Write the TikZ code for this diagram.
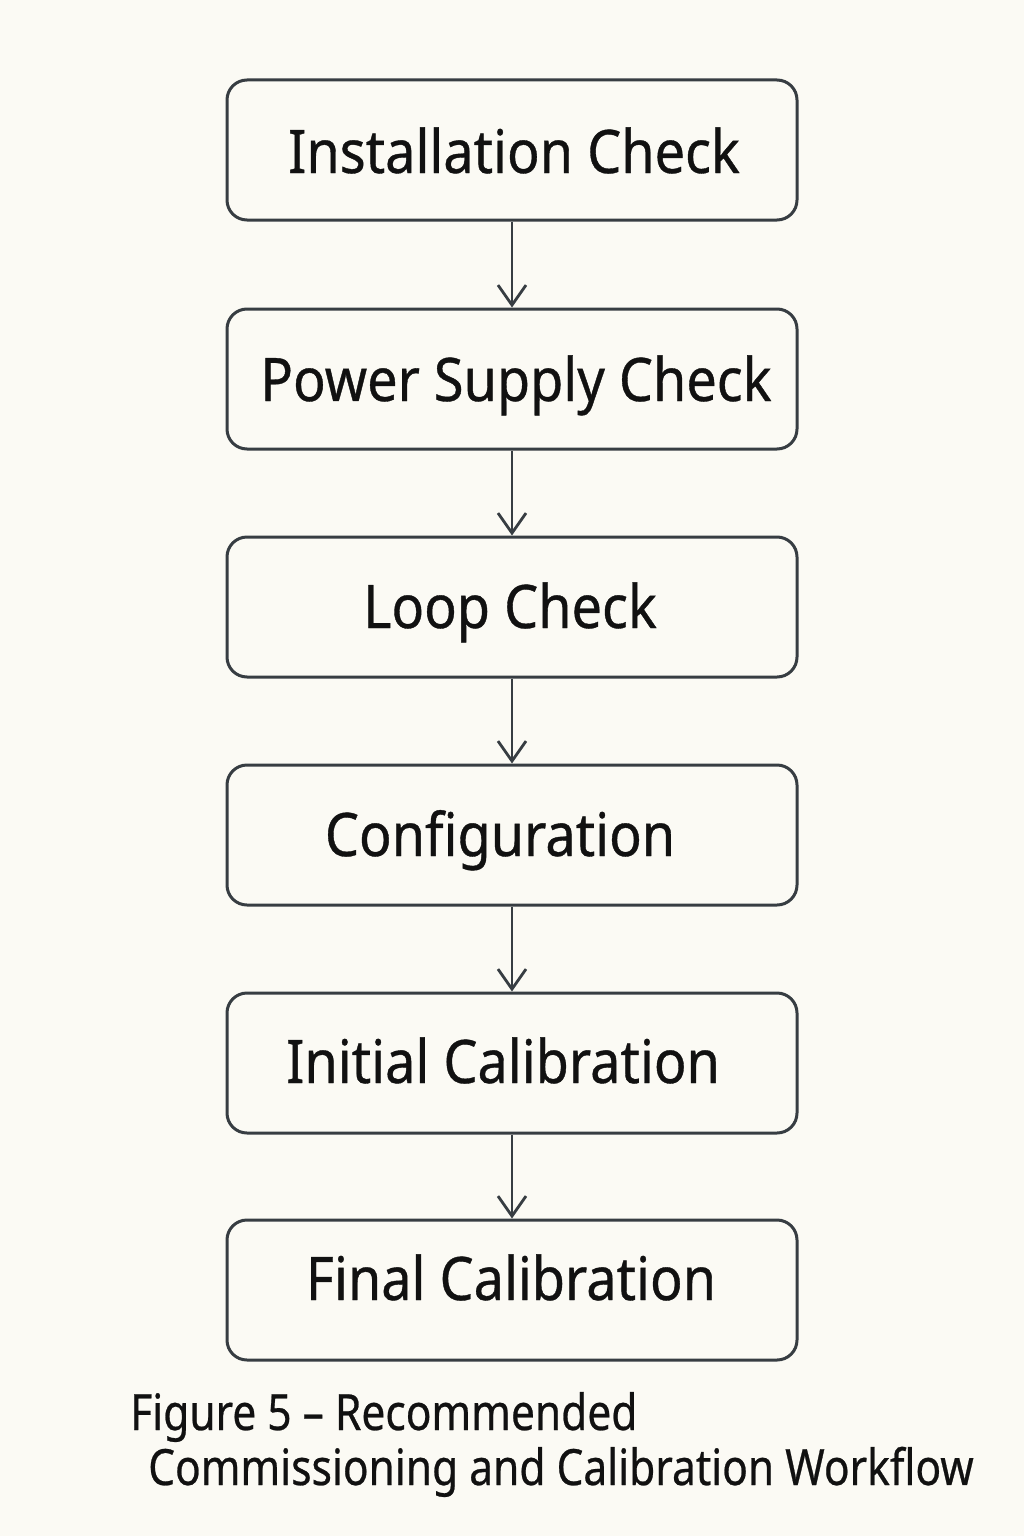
\documentclass[tikz,border=0pt]{standalone}
\usepackage{fontspec}
\setmainfont{Noto Sans}[FakeStretch=0.90,FakeBold=0.6]
\newfontfamily\capfont{Noto Sans}[FakeStretch=0.85,FakeBold=0.5]
\usetikzlibrary{arrows.meta}
\definecolor{bg}{HTML}{FBFAF4}
\definecolor{edge}{HTML}{373D42}
\definecolor{ink}{HTML}{111111}
\begin{document}
\begin{tikzpicture}[x=1pt,y=-1pt,
  stepbox/.style={draw=edge,line width=3pt,rounded corners=20pt,minimum width=570pt,minimum height=140pt,inner sep=0pt},
  lbl/.style={text=ink,font=\fontsize{60}{66}\selectfont,inner sep=0pt,anchor=base},
  conn/.style={draw=edge,line width=2.8pt,-{Straight Barb[length=20pt,width=28pt,line width=2.8pt]}},
  captext/.style={text=ink,font=\capfont\fontsize{50}{56}\selectfont,inner sep=0pt,anchor=base west}]
\fill[bg] (0,0) rectangle (1024,1536);
\useasboundingbox (0,0) rectangle (1024,1536);
\node[stepbox] (b1) at (512,150) {};
\node[stepbox] (b2) at (512,379) {};
\node[stepbox] (b3) at (512,607) {};
\node[stepbox] (b4) at (512,835) {};
\node[stepbox] (b5) at (512,1063) {};
\node[stepbox] (b6) at (512,1290) {};
\node[lbl] (t1) at (514,173) {Installation Check};
\node[lbl] (t2) at (516,401) {Power Supply Check};
\node[lbl] (t3) at (510,628) {Loop Check};
\node[lbl] (t4) at (500,856) {Configuration};
\node[lbl] (t5) at (503,1083) {Initial Calibration};
\node[lbl] (t6) at (511,1300) {Final Calibration};
\draw[conn] (b1.south) -- (b2.north);
\draw[conn] (b2.south) -- (b3.north);
\draw[conn] (b3.south) -- (b4.north);
\draw[conn] (b4.south) -- (b5.north);
\draw[conn] (b5.south) -- (b6.north);
\node[captext] (c1) at (130,1430) {Figure 5 – Recommended};
\node[captext] (c2) at (148,1485) {Commissioning and Calibration Workflow};
\end{tikzpicture}
\end{document}
